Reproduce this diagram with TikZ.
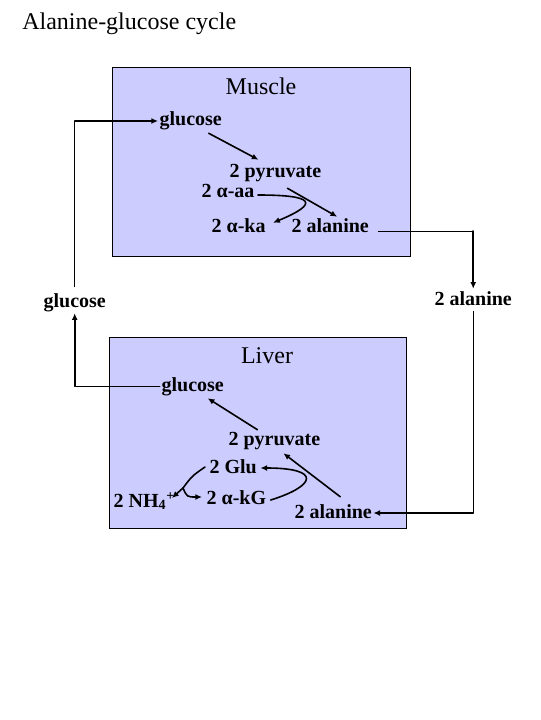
\documentclass[tikz,border=0pt]{standalone}
\usepackage{fontspec}
\setmainfont{Liberation Serif}
\usetikzlibrary{arrows.meta,calc}
\definecolor{organfill}{RGB}{204,204,255}
\begin{document}
\begin{tikzpicture}[x=0.75pt,y=-0.75pt,line cap=round,
		lbl/.style={text height=11pt,text depth=3.5pt,inner sep=1,anchor=base west,font=\bfseries\fontsize{15}{18}\selectfont},
		ttl/.style={inner sep=0,font=\fontsize{18}{22}\selectfont},
		organ/.style={draw,fill=organfill,line width=0.6pt},
		rx/.style={-{Latex[length=5pt,width=4.5pt]},line width=1.2pt},
		link/.style={line width=0.7pt}]
	\useasboundingbox (0,0) rectangle (540,720);
	\node[ttl,anchor=west] (title) at (22,24) {Alanine-glucose cycle};
	% muscle
	\draw[organ] (112,67) rectangle (410,256);
	\node[ttl] (muscle) at (261,86) {Muscle};
	\node[lbl] (mglc) at (158,126) {glucose};
	\node[lbl] (mpyr) at (228,178) {2 pyruvate};
	\node[lbl] (maa) at (200,198) {2 α-aa};
	\node[lbl] (mka) at (210,233) {2 α-ka};
	\node[lbl] (mala) at (290,233) {2 alanine};
	% blood
	\node[lbl] (xala) at (433,305) {2 alanine};
	\node[lbl] (xglc) at (42,307) {glucose};
	% liver
	\draw[organ] (109,337) rectangle (406,528);
	\node[ttl] (liver) at (267,356) {Liver};
	\node[lbl] (lglc) at (160,391) {glucose};
	\node[lbl] (lpyr) at (227,445) {2 pyruvate};
	\node[lbl] (lglu) at (208,473) {2 Glu};
	\node[lbl] (lkg) at (205,504) {2 α-kG};
	\node[lbl] (lnh) at (112,507) {2 NH\textsubscript{4}\textsuperscript{+}};
	\node[lbl] (lala) at (293,518) {2 alanine};
	\coordinate (mout) at ($(mala.east)+(8,3)$);
	\coordinate (fork) at ($(lglu.west)+(-25,20)$);
	\draw[rx] ($(mglc.south)+(18,1)$) -- ($(mpyr.north)+(-17,-2)$);
	\draw[rx] ($(mpyr.south)+(12,4)$) -- ($(mala.north)+(7,0)$);
	\draw[rx] ($(maa.east)+(2,2)$) .. controls +(55,0) and +(48,-20) .. ($(mka.north east)+(6,6)$);
	\draw[link] (mout) -- (mout -| xala.north);
	\draw[rx] (mout -| xala.north) -- (xala.north);
	\draw[link] (xala.south) -- (xala.south |- lala.east);
	\draw[rx] (xala.south |- lala.east) -- (lala.east);
	\draw[link] (lglc.west) -- (lglc.west -| xglc.south);
	\draw[rx] (lglc.west -| xglc.south) -- (xglc.south);
	\draw[link] ($(xglc.north)+(0,-4)$) -- (xglc.north |- mglc.west);
	\draw[rx] (xglc.north |- mglc.west) -- (mglc.west);
	\draw[rx] ($(lpyr.north)+(-17,1)$) -- ($(lglc.south)+(15,1)$);
	\draw[rx] ($(lala.north)+(7,-5)$) -- ($(lpyr.south)+(9,2)$);
	\draw[rx] ($(lkg.east)+(3,1)$) .. controls +(45,-14) and +(62,0) .. ($(lglu.east)+(2,0)$);
	\draw[line width=1.2pt] ($(lglu.west)+(-3,-1)$) .. controls +(-13,9) .. (fork);
	\draw[rx] (fork) -- ($(fork)+(-11,10)$);
	\draw[rx] (fork) .. controls +(4,9) .. ($(lkg.west)+(-3,-2)$);
\end{tikzpicture}
\end{document}
